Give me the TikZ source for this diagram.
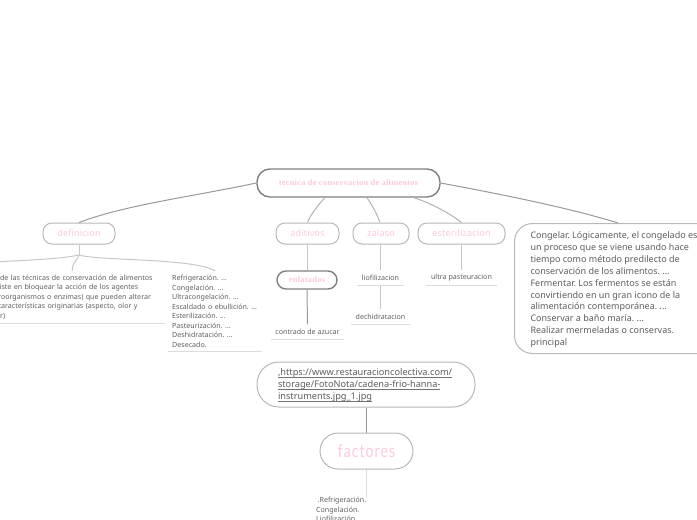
\documentclass[tikz,border=0pt]{standalone}
\usepackage{fontspec}
\setmainfont{Noto Sans}
\newfontfamily\titlefont[LetterSpace=3]{Liberation Serif}
\newfontfamily\handfont[LetterSpace=6,FakeStretch=0.78]{Lato}
\newcommand{\ul}[1]{\leavevmode\setbox0\hbox{#1}\rlap{\color{black!55}\rule[-1.6pt]{\wd0}{0.5pt}}\box0}
\frenchspacing
\definecolor{pinkt}{HTML}{FFC8DF}
\definecolor{txt}{HTML}{5E5E5E}
\tikzset{
  x=1pt,y=-1pt,
  box/.style={draw=#1,line width=1pt,rounded corners=9pt,inner sep=0pt,fill=white,text=pinkt},
  box/.default={black!28},
  note/.style={inner sep=0pt,text=txt,font=\fontsize{7.1}{9.5}\selectfont,align=left},
  leaf/.style={note,align=center,minimum height=15pt},
  link/.style={draw=black!22,line width=1pt},
  darklink/.style={draw=black!40,line width=1pt},
  rule/.style={draw=black!14,line width=1pt},
  lab/.style={font=\fontsize{9}{11}\selectfont\addfontfeature{LetterSpace=2.5}}
}
\begin{document}
\begin{tikzpicture}
\useasboundingbox (0,0) rectangle (697,520);
\clip (0,0) rectangle (697,520);
\node[box=black!50,minimum width=183pt,minimum height=28pt,rounded corners=13pt,line width=1.4pt,font=\titlefont\bfseries\fontsize{8.4}{10}\selectfont] (root) at (348.5,183) {tecnica de conservacion de alimentos};
\node[box,minimum width=72pt,minimum height=21pt,lab] (def) at (79,233.5) {definicion};
\node[box,minimum width=63pt,minimum height=21pt,lab] (adi) at (307.5,233.5) {aditivos};
\node[box,minimum width=56pt,minimum height=21pt,lab] (zal) at (381,233.5) {zalaso};
\node[box,minimum width=87pt,minimum height=21pt,lab] (est) at (461.5,233.5) {esterilizacion};
\node[box=black!50,minimum width=60pt,minimum height=18pt,line width=1.4pt,font=\titlefont\bfseries\fontsize{8.4}{10}\selectfont] (enl) at (307,280) {enlatados};
\node[leaf,minimum width=73pt] (con) at (307.5,332) {contrado de azucar};
\node[leaf,minimum width=46pt] (lio) at (380.5,277.5) {liofilizacion};
\node[leaf,minimum width=59pt] (dec) at (380.5,317) {dechidratacion};
\node[leaf,minimum width=71pt] (ult) at (461.5,277.5) {ultra pasteuracion};
\node[note,anchor=north west,minimum width=186pt,text width=186pt,minimum height=52pt] (ltx) at (-21,271) {\hspace*{5pt}Una de las técnicas de conservación de alimentos\\\hspace*{5pt}consiste en bloquear la acción de los agentes\\\hspace*{5pt}(microorganismos o enzimas) que pueden alterar\\\hspace*{5pt}sus características originarias (aspecto, olor y\\\hspace*{5pt}sabor)};
\node[note,anchor=north west,minimum width=94pt,text width=94pt,minimum height=80pt] (rtx) at (168,271) {\hspace*{4pt}Refrigeración. ...\\\hspace*{4pt}Congelación. ...\\\hspace*{4pt}Ultracongelación. ...\\\hspace*{4pt}Escaldado o ebullición. ...\\\hspace*{4pt}Esterilización. ...\\\hspace*{4pt}Pasteurización. ...\\\hspace*{4pt}Deshidratación. ...\\\hspace*{4pt}Desecado.};
\node[box,anchor=north west,text=txt,minimum width=210pt,minimum height=130pt,rounded corners=18pt,align=left] (big) at (514,223) {\begin{minipage}[c]{178pt}\fontsize{9}{11.9}\selectfont\raggedright\vspace{2.5pt} Congelar. Lógicamente, el congelado es\\un proceso que se viene usando hace\\tiempo como método predilecto de\\conservación de los alimentos. ...\\Fermentar. Los fermentos se están\\convirtiendo en un gran icono de la\\alimentación contemporánea. ...\\Conservar a baño maría. ...\\Realizar mermeladas o conservas.\\principal\end{minipage}};
\node[box,text=txt,minimum width=218pt,minimum height=45pt,rounded corners=22pt,align=left] (url) at (366,384.5) {\begin{minipage}[c]{176pt}\fontsize{9.2}{12}\selectfont\raggedright\vspace{2pt}\ul{,https://www.restauracioncolectiva.com/}\\\ul{storage/FotoNota/cadena-frio-hanna-}\\\ul{instruments.jpg\_1.jpg}\end{minipage}};
\node[box,minimum width=93pt,minimum height=36pt,rounded corners=18pt,font=\handfont\fontsize{18}{20}\selectfont] (fac) at (366.5,451) {factores};
\node[note,anchor=north west] (bot) at (316,497) {\hspace*{1.5pt}.Refrigeración.\\Congelación.\\Liofilización.};
\coordinate (off) at (-40,264);
\coordinate (fork) at (79,255);
\draw[darklink] (root.west) .. controls (190,197) and (125,205) .. (def.north);
\draw[link,draw=black!30] (root.south -| 325,0) .. controls (318,205) and (311,214) .. (adi.north);
\draw[link,draw=black!30] (root.south -| 367,0) .. controls (372,205) and (377,214) .. (zal.north -| 380,0);
\draw[link,draw=black!30] (root.south -| 414,0) .. controls (430,203) and (448,212) .. (est.north);
\draw[darklink] (root.east) .. controls (500,194) and (570,208) .. (big.north -| 618,0);
\draw[link] (def.south) -- (fork);
\draw[link] (fork) .. controls (55,260) and (20,260) .. (off);
\draw[link] (fork) .. controls (78,260) and (72,262) .. (ltx.north);
\draw[link] (fork) .. controls (100,261) and (195,258) .. (rtx.north);
\draw[link] (adi.south) -- (enl.north -| adi.south);
\draw[darklink] (enl.south) -- (con.north);
\draw[link] (zal.south -| lio.north) -- (lio.north);
\draw[link] (lio.south) -- (dec.north);
\draw[link] (est.south) -- (ult.north);
\draw[darklink] (url.south) -- (fac.north -| url.south);
\draw[link,draw=black!14] (fac.south) -- (bot.north -| fac.south);
\draw[rule] (con.south west) -- (con.south east);
\draw[rule] (lio.south west) -- (lio.south east);
\draw[rule] (dec.south west) -- (dec.south east);
\draw[rule] (ult.south west) -- (ult.south east);
\draw[rule] (ltx.south west) -- (ltx.south east);
\draw[rule] (rtx.south west) -- (rtx.south east);
\end{tikzpicture}
\end{document}
